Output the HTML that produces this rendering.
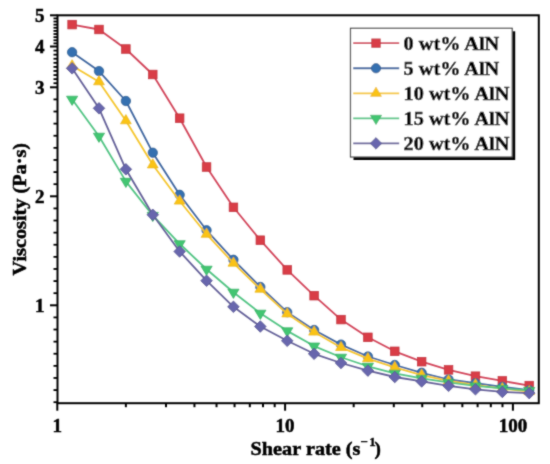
<!DOCTYPE html>
<html><head><meta charset="utf-8"><style>
html,body{margin:0;padding:0;background:#fff;}
svg{display:block;}
.t{font-family:"Liberation Serif",serif;font-weight:bold;font-size:19px;fill:#000;stroke:#000;stroke-width:0.5px;}
.at{font-family:"Liberation Serif",serif;font-weight:bold;font-size:19px;fill:#000;stroke:#000;stroke-width:0.5px;}
.sup{font-family:"Liberation Serif",serif;font-weight:bold;font-size:13px;fill:#000;stroke:#000;stroke-width:0.35px;}
</style></head><body>
<svg width="550" height="464" viewBox="0 0 550 464">
<defs><filter id="bl" x="0" y="0" width="550" height="464" filterUnits="userSpaceOnUse"><feConvolveMatrix order="3" kernelMatrix="1 3 1 3 16 3 1 3 1" divisor="32" edgeMode="duplicate"/></filter></defs>
<rect width="550" height="464" fill="#fff"/>
<g filter="url(#bl)">
<g>
<polyline points="72.1,24.6 98.99,29.5 125.88,49 152.77,74.5 179.66,118.2 206.55,167 233.44,207.3 260.33,240.2 287.22,269.9 314.11,295.7 341,319.6 367.89,337.3 394.78,351.3 421.67,361.7 448.56,369.9 475.45,376.2 502.34,380.9 529.23,385.6" fill="none" stroke="#D2455A" stroke-width="1.8" stroke-linejoin="round"/>
<rect x="67.8" y="20.3" width="8.6" height="8.6" fill="#D93D46" stroke="#C0353F" stroke-width="0.7"/>
<rect x="94.69" y="25.2" width="8.6" height="8.6" fill="#D93D46" stroke="#C0353F" stroke-width="0.7"/>
<rect x="121.58" y="44.7" width="8.6" height="8.6" fill="#D93D46" stroke="#C0353F" stroke-width="0.7"/>
<rect x="148.47" y="70.2" width="8.6" height="8.6" fill="#D93D46" stroke="#C0353F" stroke-width="0.7"/>
<rect x="175.36" y="113.9" width="8.6" height="8.6" fill="#D93D46" stroke="#C0353F" stroke-width="0.7"/>
<rect x="202.25" y="162.7" width="8.6" height="8.6" fill="#D93D46" stroke="#C0353F" stroke-width="0.7"/>
<rect x="229.14" y="203" width="8.6" height="8.6" fill="#D93D46" stroke="#C0353F" stroke-width="0.7"/>
<rect x="256.03" y="235.9" width="8.6" height="8.6" fill="#D93D46" stroke="#C0353F" stroke-width="0.7"/>
<rect x="282.92" y="265.6" width="8.6" height="8.6" fill="#D93D46" stroke="#C0353F" stroke-width="0.7"/>
<rect x="309.81" y="291.4" width="8.6" height="8.6" fill="#D93D46" stroke="#C0353F" stroke-width="0.7"/>
<rect x="336.7" y="315.3" width="8.6" height="8.6" fill="#D93D46" stroke="#C0353F" stroke-width="0.7"/>
<rect x="363.59" y="333" width="8.6" height="8.6" fill="#D93D46" stroke="#C0353F" stroke-width="0.7"/>
<rect x="390.48" y="347" width="8.6" height="8.6" fill="#D93D46" stroke="#C0353F" stroke-width="0.7"/>
<rect x="417.37" y="357.4" width="8.6" height="8.6" fill="#D93D46" stroke="#C0353F" stroke-width="0.7"/>
<rect x="444.26" y="365.6" width="8.6" height="8.6" fill="#D93D46" stroke="#C0353F" stroke-width="0.7"/>
<rect x="471.15" y="371.9" width="8.6" height="8.6" fill="#D93D46" stroke="#C0353F" stroke-width="0.7"/>
<rect x="498.04" y="376.6" width="8.6" height="8.6" fill="#D93D46" stroke="#C0353F" stroke-width="0.7"/>
<rect x="524.93" y="381.3" width="8.6" height="8.6" fill="#D93D46" stroke="#C0353F" stroke-width="0.7"/>
<polyline points="72.1,52.2 98.99,71.1 125.88,101 152.77,152.7 179.66,194.8 206.55,230.3 233.44,259.8 260.33,287 287.22,312.2 314.11,330 341,344.6 367.89,356.5 394.78,365 421.67,372.8 448.56,379.5 475.45,383.2 502.34,386.8 529.23,390.2" fill="none" stroke="#4067A0" stroke-width="1.8" stroke-linejoin="round"/>
<circle cx="72.1" cy="52.2" r="4.7" fill="#3470B0" stroke="#2E5A8C" stroke-width="0.7"/>
<circle cx="98.99" cy="71.1" r="4.7" fill="#3470B0" stroke="#2E5A8C" stroke-width="0.7"/>
<circle cx="125.88" cy="101" r="4.7" fill="#3470B0" stroke="#2E5A8C" stroke-width="0.7"/>
<circle cx="152.77" cy="152.7" r="4.7" fill="#3470B0" stroke="#2E5A8C" stroke-width="0.7"/>
<circle cx="179.66" cy="194.8" r="4.7" fill="#3470B0" stroke="#2E5A8C" stroke-width="0.7"/>
<circle cx="206.55" cy="230.3" r="4.7" fill="#3470B0" stroke="#2E5A8C" stroke-width="0.7"/>
<circle cx="233.44" cy="259.8" r="4.7" fill="#3470B0" stroke="#2E5A8C" stroke-width="0.7"/>
<circle cx="260.33" cy="287" r="4.7" fill="#3470B0" stroke="#2E5A8C" stroke-width="0.7"/>
<circle cx="287.22" cy="312.2" r="4.7" fill="#3470B0" stroke="#2E5A8C" stroke-width="0.7"/>
<circle cx="314.11" cy="330" r="4.7" fill="#3470B0" stroke="#2E5A8C" stroke-width="0.7"/>
<circle cx="341" cy="344.6" r="4.7" fill="#3470B0" stroke="#2E5A8C" stroke-width="0.7"/>
<circle cx="367.89" cy="356.5" r="4.7" fill="#3470B0" stroke="#2E5A8C" stroke-width="0.7"/>
<circle cx="394.78" cy="365" r="4.7" fill="#3470B0" stroke="#2E5A8C" stroke-width="0.7"/>
<circle cx="421.67" cy="372.8" r="4.7" fill="#3470B0" stroke="#2E5A8C" stroke-width="0.7"/>
<circle cx="448.56" cy="379.5" r="4.7" fill="#3470B0" stroke="#2E5A8C" stroke-width="0.7"/>
<circle cx="475.45" cy="383.2" r="4.7" fill="#3470B0" stroke="#2E5A8C" stroke-width="0.7"/>
<circle cx="502.34" cy="386.8" r="4.7" fill="#3470B0" stroke="#2E5A8C" stroke-width="0.7"/>
<circle cx="529.23" cy="390.2" r="4.7" fill="#3470B0" stroke="#2E5A8C" stroke-width="0.7"/>
<polyline points="72.1,65.83 98.99,81.73 125.88,120.73 152.77,164.83 179.66,201.03 206.55,234.23 233.44,263.13 260.33,289.13 287.22,313.83 314.11,332.03 341,347.43 367.89,358.63 394.78,367.43 421.67,375.03 448.56,380.83 475.45,384.83 502.34,388.73 529.23,391.53" fill="none" stroke="#F5C62E" stroke-width="1.8" stroke-linejoin="round"/>
<polygon points="72.1,59.7 77.5,68.9 66.7,68.9" fill="#FAC314" stroke="#E9B51C" stroke-width="0.7" stroke-linejoin="miter"/>
<polygon points="98.99,75.6 104.39,84.8 93.59,84.8" fill="#FAC314" stroke="#E9B51C" stroke-width="0.7" stroke-linejoin="miter"/>
<polygon points="125.88,114.6 131.28,123.8 120.48,123.8" fill="#FAC314" stroke="#E9B51C" stroke-width="0.7" stroke-linejoin="miter"/>
<polygon points="152.77,158.7 158.17,167.9 147.37,167.9" fill="#FAC314" stroke="#E9B51C" stroke-width="0.7" stroke-linejoin="miter"/>
<polygon points="179.66,194.9 185.06,204.1 174.26,204.1" fill="#FAC314" stroke="#E9B51C" stroke-width="0.7" stroke-linejoin="miter"/>
<polygon points="206.55,228.1 211.95,237.3 201.15,237.3" fill="#FAC314" stroke="#E9B51C" stroke-width="0.7" stroke-linejoin="miter"/>
<polygon points="233.44,257 238.84,266.2 228.04,266.2" fill="#FAC314" stroke="#E9B51C" stroke-width="0.7" stroke-linejoin="miter"/>
<polygon points="260.33,283 265.73,292.2 254.93,292.2" fill="#FAC314" stroke="#E9B51C" stroke-width="0.7" stroke-linejoin="miter"/>
<polygon points="287.22,307.7 292.62,316.9 281.82,316.9" fill="#FAC314" stroke="#E9B51C" stroke-width="0.7" stroke-linejoin="miter"/>
<polygon points="314.11,325.9 319.51,335.1 308.71,335.1" fill="#FAC314" stroke="#E9B51C" stroke-width="0.7" stroke-linejoin="miter"/>
<polygon points="341,341.3 346.4,350.5 335.6,350.5" fill="#FAC314" stroke="#E9B51C" stroke-width="0.7" stroke-linejoin="miter"/>
<polygon points="367.89,352.5 373.29,361.7 362.49,361.7" fill="#FAC314" stroke="#E9B51C" stroke-width="0.7" stroke-linejoin="miter"/>
<polygon points="394.78,361.3 400.18,370.5 389.38,370.5" fill="#FAC314" stroke="#E9B51C" stroke-width="0.7" stroke-linejoin="miter"/>
<polygon points="421.67,368.9 427.07,378.1 416.27,378.1" fill="#FAC314" stroke="#E9B51C" stroke-width="0.7" stroke-linejoin="miter"/>
<polygon points="448.56,374.7 453.96,383.9 443.16,383.9" fill="#FAC314" stroke="#E9B51C" stroke-width="0.7" stroke-linejoin="miter"/>
<polygon points="475.45,378.7 480.85,387.9 470.05,387.9" fill="#FAC314" stroke="#E9B51C" stroke-width="0.7" stroke-linejoin="miter"/>
<polygon points="502.34,382.6 507.74,391.8 496.94,391.8" fill="#FAC314" stroke="#E9B51C" stroke-width="0.7" stroke-linejoin="miter"/>
<polygon points="529.23,385.4 534.63,394.6 523.83,394.6" fill="#FAC314" stroke="#E9B51C" stroke-width="0.7" stroke-linejoin="miter"/>
<polyline points="72.1,99.27 98.99,136.27 125.88,181.37 152.77,215.47 179.66,243.77 206.55,269.27 233.44,292.27 260.33,313.27 287.22,330.87 314.11,346.07 341,357.27 367.89,366.27 394.78,373.27 421.67,378.27 448.56,382.47 475.45,385.97 502.34,388.47 529.23,390.47" fill="none" stroke="#52C484" stroke-width="1.8" stroke-linejoin="round"/>
<polygon points="66.5,96.2 77.7,96.2 72.1,105.4" fill="#42C672" stroke="#35AD62" stroke-width="0.7" stroke-linejoin="miter"/>
<polygon points="93.39,133.2 104.59,133.2 98.99,142.4" fill="#42C672" stroke="#35AD62" stroke-width="0.7" stroke-linejoin="miter"/>
<polygon points="120.28,178.3 131.48,178.3 125.88,187.5" fill="#42C672" stroke="#35AD62" stroke-width="0.7" stroke-linejoin="miter"/>
<polygon points="147.17,212.4 158.37,212.4 152.77,221.6" fill="#42C672" stroke="#35AD62" stroke-width="0.7" stroke-linejoin="miter"/>
<polygon points="174.06,240.7 185.26,240.7 179.66,249.9" fill="#42C672" stroke="#35AD62" stroke-width="0.7" stroke-linejoin="miter"/>
<polygon points="200.95,266.2 212.15,266.2 206.55,275.4" fill="#42C672" stroke="#35AD62" stroke-width="0.7" stroke-linejoin="miter"/>
<polygon points="227.84,289.2 239.04,289.2 233.44,298.4" fill="#42C672" stroke="#35AD62" stroke-width="0.7" stroke-linejoin="miter"/>
<polygon points="254.73,310.2 265.93,310.2 260.33,319.4" fill="#42C672" stroke="#35AD62" stroke-width="0.7" stroke-linejoin="miter"/>
<polygon points="281.62,327.8 292.82,327.8 287.22,337" fill="#42C672" stroke="#35AD62" stroke-width="0.7" stroke-linejoin="miter"/>
<polygon points="308.51,343 319.71,343 314.11,352.2" fill="#42C672" stroke="#35AD62" stroke-width="0.7" stroke-linejoin="miter"/>
<polygon points="335.4,354.2 346.6,354.2 341,363.4" fill="#42C672" stroke="#35AD62" stroke-width="0.7" stroke-linejoin="miter"/>
<polygon points="362.29,363.2 373.49,363.2 367.89,372.4" fill="#42C672" stroke="#35AD62" stroke-width="0.7" stroke-linejoin="miter"/>
<polygon points="389.18,370.2 400.38,370.2 394.78,379.4" fill="#42C672" stroke="#35AD62" stroke-width="0.7" stroke-linejoin="miter"/>
<polygon points="416.07,375.2 427.27,375.2 421.67,384.4" fill="#42C672" stroke="#35AD62" stroke-width="0.7" stroke-linejoin="miter"/>
<polygon points="442.96,379.4 454.16,379.4 448.56,388.6" fill="#42C672" stroke="#35AD62" stroke-width="0.7" stroke-linejoin="miter"/>
<polygon points="469.85,382.9 481.05,382.9 475.45,392.1" fill="#42C672" stroke="#35AD62" stroke-width="0.7" stroke-linejoin="miter"/>
<polygon points="496.74,385.4 507.94,385.4 502.34,394.6" fill="#42C672" stroke="#35AD62" stroke-width="0.7" stroke-linejoin="miter"/>
<polygon points="523.63,387.4 534.83,387.4 529.23,396.6" fill="#42C672" stroke="#35AD62" stroke-width="0.7" stroke-linejoin="miter"/>
<polyline points="72.1,68.3 98.99,108.3 125.88,169.3 152.77,214.8 179.66,251.5 206.55,280.7 233.44,306.8 260.33,326.5 287.22,340.8 314.11,353.8 341,363 367.89,370.6 394.78,377 421.67,381.4 448.56,385.8 475.45,389.3 502.34,391.9 529.23,393.1" fill="none" stroke="#656199" stroke-width="1.8" stroke-linejoin="round"/>
<polygon points="72.1,62.5 77.9,68.3 72.1,74.1 66.3,68.3" fill="#6766AD" stroke="#4E4C88" stroke-width="0.7" stroke-linejoin="miter"/>
<polygon points="98.99,102.5 104.79,108.3 98.99,114.1 93.19,108.3" fill="#6766AD" stroke="#4E4C88" stroke-width="0.7" stroke-linejoin="miter"/>
<polygon points="125.88,163.5 131.68,169.3 125.88,175.1 120.08,169.3" fill="#6766AD" stroke="#4E4C88" stroke-width="0.7" stroke-linejoin="miter"/>
<polygon points="152.77,209 158.57,214.8 152.77,220.6 146.97,214.8" fill="#6766AD" stroke="#4E4C88" stroke-width="0.7" stroke-linejoin="miter"/>
<polygon points="179.66,245.7 185.46,251.5 179.66,257.3 173.86,251.5" fill="#6766AD" stroke="#4E4C88" stroke-width="0.7" stroke-linejoin="miter"/>
<polygon points="206.55,274.9 212.35,280.7 206.55,286.5 200.75,280.7" fill="#6766AD" stroke="#4E4C88" stroke-width="0.7" stroke-linejoin="miter"/>
<polygon points="233.44,301 239.24,306.8 233.44,312.6 227.64,306.8" fill="#6766AD" stroke="#4E4C88" stroke-width="0.7" stroke-linejoin="miter"/>
<polygon points="260.33,320.7 266.13,326.5 260.33,332.3 254.53,326.5" fill="#6766AD" stroke="#4E4C88" stroke-width="0.7" stroke-linejoin="miter"/>
<polygon points="287.22,335 293.02,340.8 287.22,346.6 281.42,340.8" fill="#6766AD" stroke="#4E4C88" stroke-width="0.7" stroke-linejoin="miter"/>
<polygon points="314.11,348 319.91,353.8 314.11,359.6 308.31,353.8" fill="#6766AD" stroke="#4E4C88" stroke-width="0.7" stroke-linejoin="miter"/>
<polygon points="341,357.2 346.8,363 341,368.8 335.2,363" fill="#6766AD" stroke="#4E4C88" stroke-width="0.7" stroke-linejoin="miter"/>
<polygon points="367.89,364.8 373.69,370.6 367.89,376.4 362.09,370.6" fill="#6766AD" stroke="#4E4C88" stroke-width="0.7" stroke-linejoin="miter"/>
<polygon points="394.78,371.2 400.58,377 394.78,382.8 388.98,377" fill="#6766AD" stroke="#4E4C88" stroke-width="0.7" stroke-linejoin="miter"/>
<polygon points="421.67,375.6 427.47,381.4 421.67,387.2 415.87,381.4" fill="#6766AD" stroke="#4E4C88" stroke-width="0.7" stroke-linejoin="miter"/>
<polygon points="448.56,380 454.36,385.8 448.56,391.6 442.76,385.8" fill="#6766AD" stroke="#4E4C88" stroke-width="0.7" stroke-linejoin="miter"/>
<polygon points="475.45,383.5 481.25,389.3 475.45,395.1 469.65,389.3" fill="#6766AD" stroke="#4E4C88" stroke-width="0.7" stroke-linejoin="miter"/>
<polygon points="502.34,386.1 508.14,391.9 502.34,397.7 496.54,391.9" fill="#6766AD" stroke="#4E4C88" stroke-width="0.7" stroke-linejoin="miter"/>
<polygon points="529.23,387.3 535.03,393.1 529.23,398.9 523.43,393.1" fill="#6766AD" stroke="#4E4C88" stroke-width="0.7" stroke-linejoin="miter"/>
</g>
<rect x="57.5" y="15.3" width="481.3" height="387.9" fill="none" stroke="#000" stroke-width="2"/>
<line x1="57.3" y1="403.2" x2="57.3" y2="410.7" stroke="#000" stroke-width="2"/>
<line x1="125.87" y1="403.2" x2="125.87" y2="407.2" stroke="#000" stroke-width="2"/>
<line x1="165.99" y1="403.2" x2="165.99" y2="407.2" stroke="#000" stroke-width="2"/>
<line x1="194.45" y1="403.2" x2="194.45" y2="407.2" stroke="#000" stroke-width="2"/>
<line x1="216.53" y1="403.2" x2="216.53" y2="407.2" stroke="#000" stroke-width="2"/>
<line x1="234.56" y1="403.2" x2="234.56" y2="407.2" stroke="#000" stroke-width="2"/>
<line x1="249.81" y1="403.2" x2="249.81" y2="407.2" stroke="#000" stroke-width="2"/>
<line x1="263.02" y1="403.2" x2="263.02" y2="407.2" stroke="#000" stroke-width="2"/>
<line x1="274.68" y1="403.2" x2="274.68" y2="407.2" stroke="#000" stroke-width="2"/>
<line x1="285.1" y1="403.2" x2="285.1" y2="410.7" stroke="#000" stroke-width="2"/>
<line x1="353.67" y1="403.2" x2="353.67" y2="407.2" stroke="#000" stroke-width="2"/>
<line x1="393.79" y1="403.2" x2="393.79" y2="407.2" stroke="#000" stroke-width="2"/>
<line x1="422.25" y1="403.2" x2="422.25" y2="407.2" stroke="#000" stroke-width="2"/>
<line x1="444.33" y1="403.2" x2="444.33" y2="407.2" stroke="#000" stroke-width="2"/>
<line x1="462.36" y1="403.2" x2="462.36" y2="407.2" stroke="#000" stroke-width="2"/>
<line x1="477.61" y1="403.2" x2="477.61" y2="407.2" stroke="#000" stroke-width="2"/>
<line x1="490.82" y1="403.2" x2="490.82" y2="407.2" stroke="#000" stroke-width="2"/>
<line x1="502.48" y1="403.2" x2="502.48" y2="407.2" stroke="#000" stroke-width="2"/>
<line x1="512.9" y1="403.2" x2="512.9" y2="410.7" stroke="#000" stroke-width="2"/>
<line x1="50" y1="15.3" x2="57.5" y2="15.3" stroke="#000" stroke-width="2"/>
<line x1="53.5" y1="18.42" x2="57.5" y2="18.42" stroke="#000" stroke-width="1.8"/>
<line x1="53.5" y1="21.54" x2="57.5" y2="21.54" stroke="#000" stroke-width="1.8"/>
<line x1="53.5" y1="24.66" x2="57.5" y2="24.66" stroke="#000" stroke-width="1.8"/>
<line x1="53.5" y1="27.78" x2="57.5" y2="27.78" stroke="#000" stroke-width="1.8"/>
<line x1="53.5" y1="30.9" x2="57.5" y2="30.9" stroke="#000" stroke-width="1.8"/>
<line x1="53.5" y1="34.02" x2="57.5" y2="34.02" stroke="#000" stroke-width="1.8"/>
<line x1="53.5" y1="37.14" x2="57.5" y2="37.14" stroke="#000" stroke-width="1.8"/>
<line x1="53.5" y1="40.26" x2="57.5" y2="40.26" stroke="#000" stroke-width="1.8"/>
<line x1="53.5" y1="43.38" x2="57.5" y2="43.38" stroke="#000" stroke-width="1.8"/>
<line x1="50" y1="46.5" x2="57.5" y2="46.5" stroke="#000" stroke-width="2"/>
<line x1="53.5" y1="50.58" x2="57.5" y2="50.58" stroke="#000" stroke-width="1.8"/>
<line x1="53.5" y1="54.66" x2="57.5" y2="54.66" stroke="#000" stroke-width="1.8"/>
<line x1="53.5" y1="58.74" x2="57.5" y2="58.74" stroke="#000" stroke-width="1.8"/>
<line x1="53.5" y1="62.82" x2="57.5" y2="62.82" stroke="#000" stroke-width="1.8"/>
<line x1="53.5" y1="66.9" x2="57.5" y2="66.9" stroke="#000" stroke-width="1.8"/>
<line x1="53.5" y1="70.98" x2="57.5" y2="70.98" stroke="#000" stroke-width="1.8"/>
<line x1="53.5" y1="75.06" x2="57.5" y2="75.06" stroke="#000" stroke-width="1.8"/>
<line x1="53.5" y1="79.14" x2="57.5" y2="79.14" stroke="#000" stroke-width="1.8"/>
<line x1="53.5" y1="83.22" x2="57.5" y2="83.22" stroke="#000" stroke-width="1.8"/>
<line x1="50" y1="87.3" x2="57.5" y2="87.3" stroke="#000" stroke-width="2"/>
<line x1="53.5" y1="99.41" x2="57.5" y2="99.41" stroke="#000" stroke-width="1.8"/>
<line x1="53.5" y1="111.52" x2="57.5" y2="111.52" stroke="#000" stroke-width="1.8"/>
<line x1="53.5" y1="123.63" x2="57.5" y2="123.63" stroke="#000" stroke-width="1.8"/>
<line x1="53.5" y1="135.74" x2="57.5" y2="135.74" stroke="#000" stroke-width="1.8"/>
<line x1="53.5" y1="147.86" x2="57.5" y2="147.86" stroke="#000" stroke-width="1.8"/>
<line x1="53.5" y1="159.97" x2="57.5" y2="159.97" stroke="#000" stroke-width="1.8"/>
<line x1="53.5" y1="172.08" x2="57.5" y2="172.08" stroke="#000" stroke-width="1.8"/>
<line x1="53.5" y1="184.19" x2="57.5" y2="184.19" stroke="#000" stroke-width="1.8"/>
<line x1="50" y1="196.3" x2="57.5" y2="196.3" stroke="#000" stroke-width="2"/>
<line x1="53.5" y1="208.41" x2="57.5" y2="208.41" stroke="#000" stroke-width="1.8"/>
<line x1="53.5" y1="220.52" x2="57.5" y2="220.52" stroke="#000" stroke-width="1.8"/>
<line x1="53.5" y1="232.63" x2="57.5" y2="232.63" stroke="#000" stroke-width="1.8"/>
<line x1="53.5" y1="244.74" x2="57.5" y2="244.74" stroke="#000" stroke-width="1.8"/>
<line x1="53.5" y1="256.86" x2="57.5" y2="256.86" stroke="#000" stroke-width="1.8"/>
<line x1="53.5" y1="268.97" x2="57.5" y2="268.97" stroke="#000" stroke-width="1.8"/>
<line x1="53.5" y1="281.08" x2="57.5" y2="281.08" stroke="#000" stroke-width="1.8"/>
<line x1="53.5" y1="293.19" x2="57.5" y2="293.19" stroke="#000" stroke-width="1.8"/>
<line x1="50" y1="305.3" x2="57.5" y2="305.3" stroke="#000" stroke-width="2"/>
<line x1="53.5" y1="317.41" x2="57.5" y2="317.41" stroke="#000" stroke-width="1.8"/>
<line x1="53.5" y1="329.52" x2="57.5" y2="329.52" stroke="#000" stroke-width="1.8"/>
<line x1="53.5" y1="341.63" x2="57.5" y2="341.63" stroke="#000" stroke-width="1.8"/>
<line x1="53.5" y1="353.74" x2="57.5" y2="353.74" stroke="#000" stroke-width="1.8"/>
<line x1="53.5" y1="365.86" x2="57.5" y2="365.86" stroke="#000" stroke-width="1.8"/>
<line x1="53.5" y1="377.97" x2="57.5" y2="377.97" stroke="#000" stroke-width="1.8"/>
<line x1="53.5" y1="390.08" x2="57.5" y2="390.08" stroke="#000" stroke-width="1.8"/>
<line x1="53.5" y1="402.19" x2="57.5" y2="402.19" stroke="#000" stroke-width="1.8"/>
<rect x="353.5" y="31.3" width="161.7" height="128.7" fill="#000"/>
<rect x="350.5" y="28.3" width="161.7" height="128.7" fill="#fff" stroke="#444" stroke-width="1.2"/>
<line x1="353.2" y1="43.2" x2="399.2" y2="43.2" stroke="#D2455A" stroke-width="1.8"/>
<rect x="371.7" y="38.9" width="8.6" height="8.6" fill="#D93D46" stroke="#C0353F" stroke-width="0.7"/>
<text transform="translate(403.6,50.1) scale(1.066,1)" class="t">0 wt% AlN</text>
<line x1="353.2" y1="68.25" x2="399.2" y2="68.25" stroke="#4067A0" stroke-width="1.8"/>
<circle cx="376" cy="68.25" r="4.7" fill="#3470B0" stroke="#2E5A8C" stroke-width="0.7"/>
<text transform="translate(403.6,75.15) scale(1.066,1)" class="t">5 wt% AlN</text>
<line x1="353.2" y1="93.3" x2="399.2" y2="93.3" stroke="#F5C62E" stroke-width="1.8"/>
<polygon points="376,87.17 381.4,96.37 370.6,96.37" fill="#FAC314" stroke="#E9B51C" stroke-width="0.7" stroke-linejoin="miter"/>
<text transform="translate(403.6,100.2) scale(1.066,1)" class="t">10 wt% AlN</text>
<line x1="353.2" y1="118.35" x2="399.2" y2="118.35" stroke="#52C484" stroke-width="1.8"/>
<polygon points="370.4,115.28 381.6,115.28 376,124.48" fill="#42C672" stroke="#35AD62" stroke-width="0.7" stroke-linejoin="miter"/>
<text transform="translate(403.6,125.25) scale(1.066,1)" class="t">15 wt% AlN</text>
<line x1="353.2" y1="143.4" x2="399.2" y2="143.4" stroke="#656199" stroke-width="1.8"/>
<polygon points="376,137.6 381.8,143.4 376,149.2 370.2,143.4" fill="#6766AD" stroke="#4E4C88" stroke-width="0.7" stroke-linejoin="miter"/>
<text transform="translate(403.6,150.3) scale(1.066,1)" class="t">20 wt% AlN</text>
<text x="57.3" y="432.3" class="t" text-anchor="middle">1</text>
<text x="285.1" y="432.3" class="t" text-anchor="middle">10</text>
<text x="512.9" y="432.3" class="t" text-anchor="middle">100</text>
<text x="44.6" y="21.8" class="t" text-anchor="end">5</text>
<text x="44.6" y="53" class="t" text-anchor="end">4</text>
<text x="44.6" y="93.8" class="t" text-anchor="end">3</text>
<text x="44.6" y="203" class="t" text-anchor="end">2</text>
<text x="44.6" y="311.8" class="t" text-anchor="end">1</text>
<text transform="translate(250.6,454.6) scale(1.066,1)" class="at">Shear rate (s</text>
<text x="360.3" y="445.6" class="sup">−</text><text x="369.2" y="445.6" class="sup">1</text>
<text x="374.6" y="454.6" class="at">)</text>
<text transform="translate(25.6,275.4) rotate(-90) scale(1.066,1)" class="at">Viscosity (Pa·s)</text>
</g>
</svg>
</body></html>
